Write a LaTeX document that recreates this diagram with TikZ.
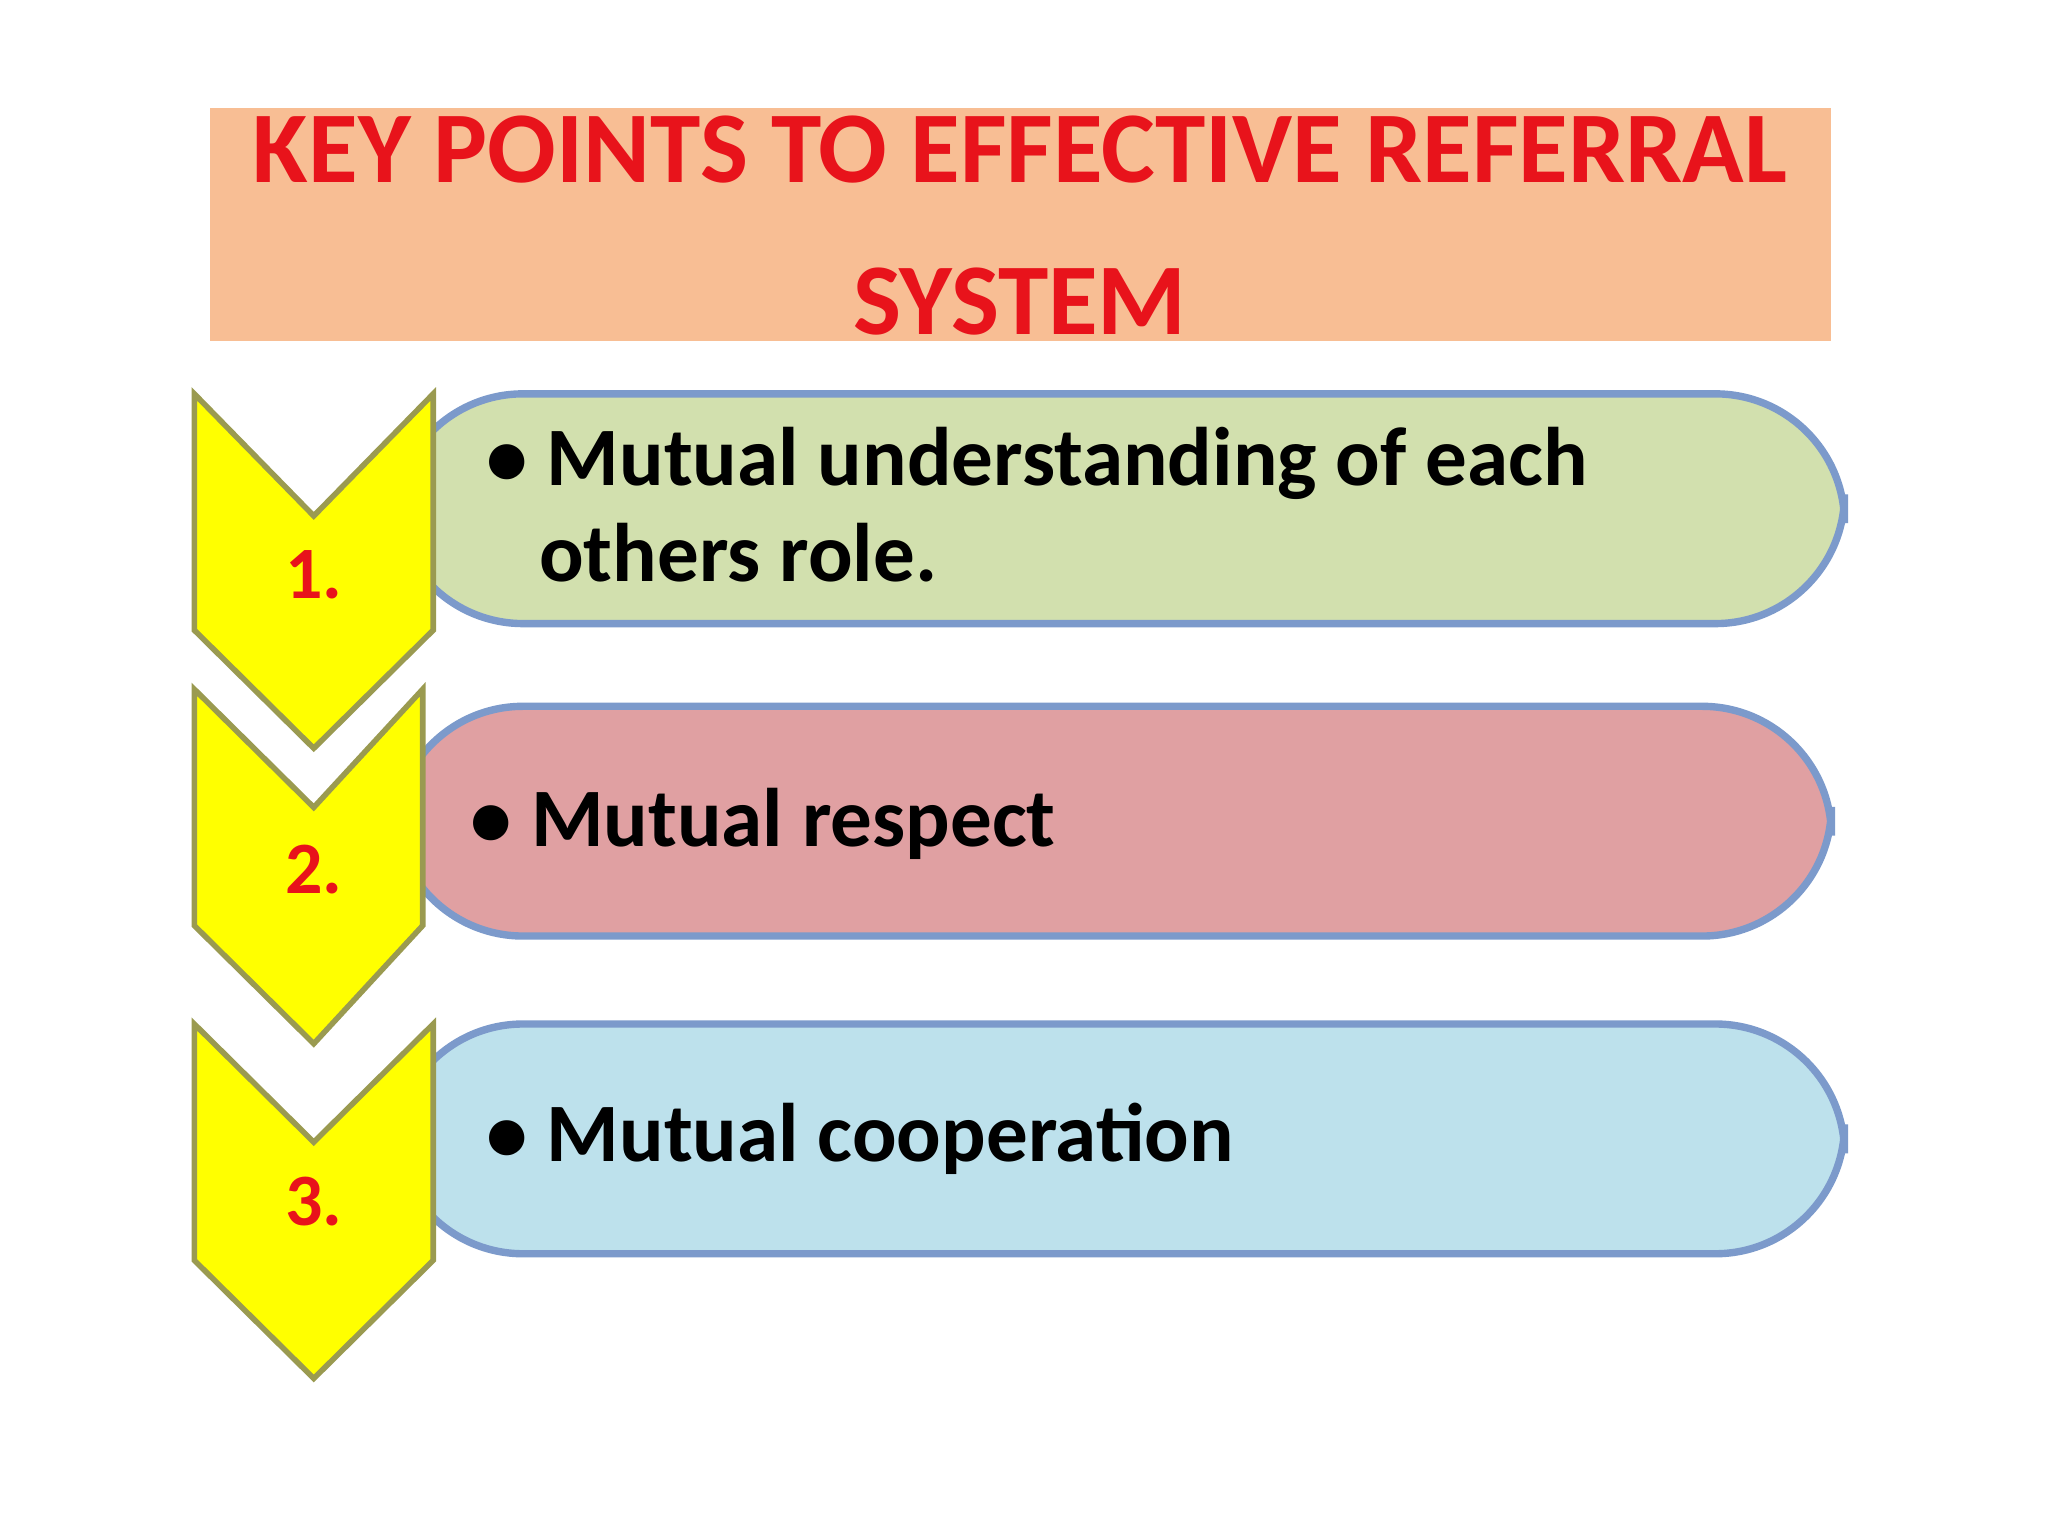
\documentclass[tikz,border=0pt]{standalone}
\usepackage{fontspec}
\setmainfont{Carlito}
\definecolor{peach}{HTML}{F8BE94}
\definecolor{tred}{HTML}{E8131B}
\definecolor{gbox}{HTML}{D2E0AE}
\definecolor{pbox}{HTML}{E0A0A2}
\definecolor{bbox}{HTML}{BDE1EC}
\definecolor{bline}{HTML}{7C9ACB}
\definecolor{yel}{HTML}{FFFF00}
\definecolor{yline}{HTML}{9A9A50}
\tikzset{x=0.01cm,y=-0.01cm,
 itembox/.style={draw=bline,line width=1.6pt,rounded corners=28},
 chev/.style={fill=yel,draw=yline,line width=1.2pt,line join=miter},
 itemtxt/.style={anchor=base west,font=\fontsize{18}{22}\selectfont\bfseries,inner sep=0},
 numtxt/.style={font=\fontsize{16}{19}\selectfont\bfseries,text=tred}}
\begin{document}
\begin{tikzpicture}
\useasboundingbox (0,0) rectangle (1560,1170);
\fill[white] (0,0) rectangle (1560,1170);
\fill[peach] (160,82) rectangle (1395,260);
\node[align=center,text=tred,font=\fontsize{22}{33}\selectfont\bfseries] (title) at (777,172) {KEY POINTS TO EFFECTIVE REFERRAL\\SYSTEM};
\draw[itembox,fill=gbox] (300,300) rectangle (1405,475);
\draw[itembox,fill=pbox] (300,538) rectangle (1395,713);
\draw[itembox,fill=bbox] (300,780) rectangle (1405,955);
\draw[chev] (148,300) -- (239,393) -- (330,300) -- (330,480) -- (239,570) -- (148,480) -- cycle;
\draw[chev] (148,525) -- (239,615) -- (322,525) -- (322,705) -- (239,795) -- (148,705) -- cycle;
\draw[chev] (148,780) -- (239,870) -- (330,780) -- (330,960) -- (239,1050) -- (148,960) -- cycle;
\node[numtxt] (n1) at (239,438) {1.};
\node[numtxt] (n2) at (239,662) {2.};
\node[numtxt] (n3) at (239,915) {3.};
\node[itemtxt] (t1) at (370,370) {\textbullet\ Mutual understanding of each};
\node[itemtxt] (t1b) at (410,443) {others role.};
\node[itemtxt] (t2) at (358,645) {\textbullet\ Mutual respect};
\node[itemtxt] (t3) at (370,885) {\textbullet\ Mutual cooperation};
\end{tikzpicture}
\end{document}
